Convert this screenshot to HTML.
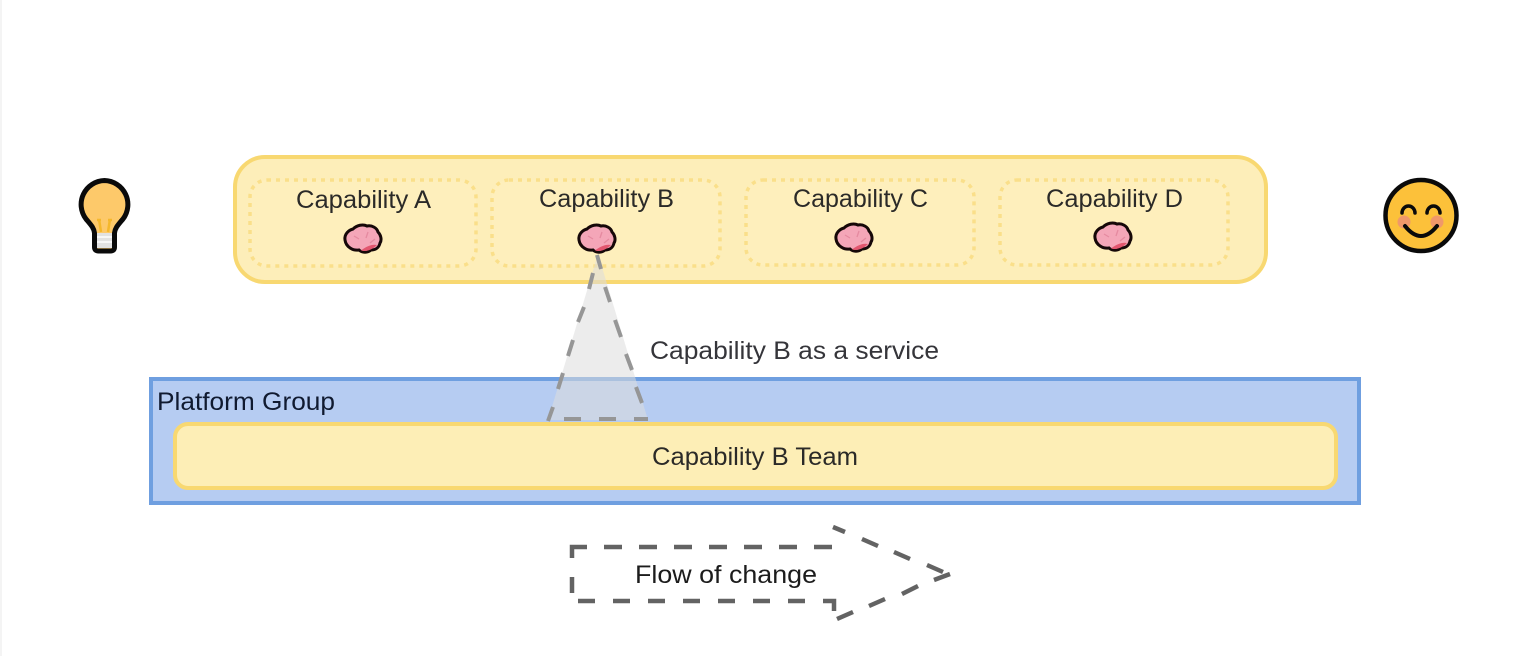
<!DOCTYPE html>
<html><head><meta charset="utf-8"><style>
html,body{margin:0;padding:0;background:#fff;width:1522px;height:656px;overflow:hidden}
svg{display:block;filter:blur(.35px)}
text{font-family:"Liberation Sans",sans-serif;font-size:25px;fill:#2b2a28}
</style></head><body>
<svg width="1522" height="656" viewBox="0 0 1522 656" xmlns="http://www.w3.org/2000/svg">
<defs>
<g id="brain">
<path d="M-18 2C-19-4-14-8-10-9C-6-13 0-14 4-12C9-13 14-10 15-6C18-3 19 2 17 5C16 10 12 12 8 12C5 15-1 15-4 12C-10 13-17 9-18 2Z" fill="#f4a6b8" stroke="#160808" stroke-width="3"/>
<path d="M-2 12.500C3 14 9 12 14 7C9 6 4 8-2 12.500Z" fill="#e2566f"/>
<path d="M-9-2L-4 1M5-6L3 0M7 5L12 1" fill="none" stroke="#e58aa0" stroke-width="1.300"/>
</g>
</defs>
<rect x="0" y="0" width="2" height="656" fill="#f4f4f4"/>

<!-- bulb -->
<path d="M104.500 180.500A24 24 0 0 1 123 219C118 225 115 228 114.500 233L114.500 247Q114.500 251 110.500 251H98.500Q94.500 251 94.500 247L94.500 233C94 228 91 225 86 219A24 24 0 0 1 104.500 180.500Z" fill="#fdc96a" stroke="#0a0a0a" stroke-width="5" stroke-linejoin="round"/>
<path d="M99 219L101 232M110 219L108 232M97 220H101M108 220H112" fill="none" stroke="#f5b82c" stroke-width="2.500"/>
<rect x="97" y="233" width="15" height="15" fill="#e2e2e2"/>
<path d="M97 237H112M97 242H112" stroke="#fafafa" stroke-width="1.800"/>

<!-- capability group -->
<rect x="235" y="157" width="1031" height="125" rx="30" fill="#fdeeb9" stroke="#f8d871" stroke-width="4"/>
<g fill="#feefbc" stroke="#fadf8a" stroke-width="3.500" stroke-dasharray="4 5">
<rect x="250" y="180" width="226" height="86" rx="17"/>
<rect x="492" y="180" width="228" height="86" rx="17"/>
<rect x="746" y="180" width="228" height="85" rx="17"/>
<rect x="1000" y="180" width="228" height="85" rx="17"/>
</g>
<text x="296" y="208" textLength="135" lengthAdjust="spacingAndGlyphs">Capability A</text>
<text x="539" y="207" textLength="135" lengthAdjust="spacingAndGlyphs">Capability B</text>
<text x="793" y="207" textLength="135" lengthAdjust="spacingAndGlyphs">Capability C</text>
<text x="1046" y="207" textLength="137" lengthAdjust="spacingAndGlyphs">Capability D</text>
<use href="#brain" x="363" y="238"/>
<use href="#brain" x="597" y="238"/>
<use href="#brain" x="854" y="237"/>
<use href="#brain" x="1113" y="236"/>

<!-- platform group -->
<rect x="151" y="379" width="1208" height="124" fill="#b6ccf2" stroke="#6f9fe0" stroke-width="4"/>
<text x="157" y="410" textLength="178" lengthAdjust="spacingAndGlyphs" style="fill:#101a30">Platform Group</text>
<rect x="175" y="424" width="1161" height="64" rx="13" fill="#fdeeb6" stroke="#f8d871" stroke-width="4"/>
<text x="652" y="465" textLength="206" lengthAdjust="spacingAndGlyphs">Capability B Team</text>

<!-- service triangle -->
<path d="M598 254L548 420H648Z" fill="#dcdcdc" fill-opacity=".55"/>
<path d="M593 273L589 289M584 307L578 322M573 340L568 356M563 373L558 389M553 407L548 421M597 255L601 269M605 287L610 302M615 320L621 337M626 354L632 370M636 387L642 403M564 419H581M599 419H616M634 419H648" fill="none" stroke="#969696" stroke-width="4"/>
<text x="650" y="359" textLength="289" lengthAdjust="spacingAndGlyphs" style="fill:#35353a">Capability B as a service</text>

<!-- flow arrow -->
<path d="M572 558V547H587M604 547H622M639 547H657M674 547H692M709 547H727M744 547H762M779 547H797M814 547H832M572 577V593M578 601H595M613 601H630M648 601H665M683 601H700M718 601H735M753 601H770M788 601H805M823 601H834V611M833 527L845 532M862 539L878 546M894 552L910 559M927 565L943 572M934 580L950 574M902 594L918 586M869 606L885 599M837 619L853 612" fill="none" stroke="#636363" stroke-width="4.500"/>
<text x="635" y="583" textLength="182" lengthAdjust="spacingAndGlyphs" style="fill:#1c1c1c">Flow of change</text>

<!-- smiley -->
<circle cx="1421" cy="215.500" r="35.500" fill="#fcc13a" stroke="#0a0a0a" stroke-width="4.500"/>
<circle cx="1404" cy="222" r="6.500" fill="#f0986a"/>
<circle cx="1437" cy="222" r="6.500" fill="#f0986a"/>
<path d="M1402 213A6.500 7 0 0 1 1415 213M1427 213A6.500 7 0 0 1 1440 213" fill="none" stroke="#0a0a0a" stroke-width="3.500" stroke-linecap="round"/>
<path d="M1405 226Q1421 246 1437 226" fill="none" stroke="#0a0a0a" stroke-width="4" stroke-linecap="round"/>
</svg>
</body></html>
